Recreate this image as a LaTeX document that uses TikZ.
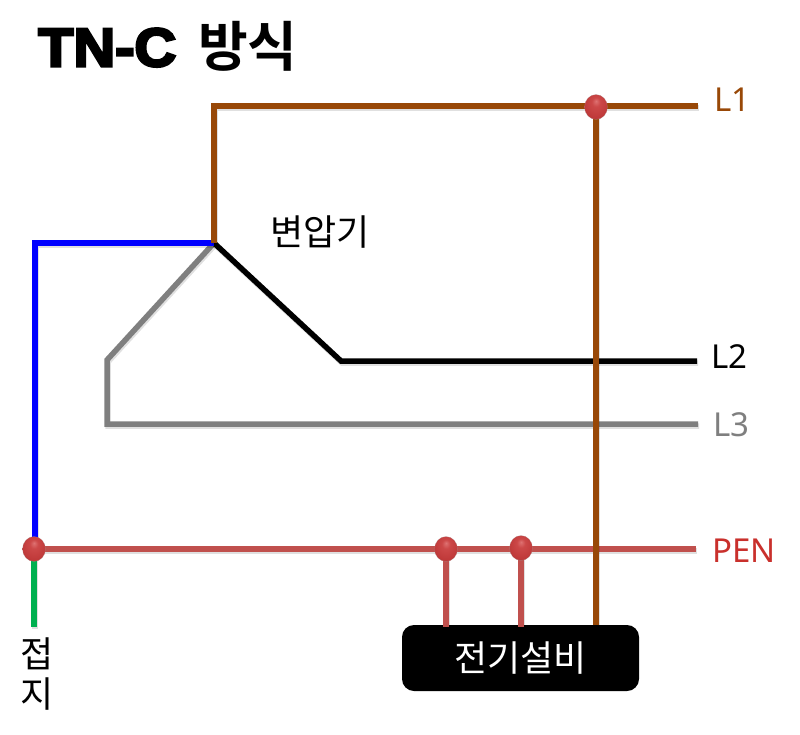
\documentclass[tikz,border=0pt]{standalone}
\usepackage{fontspec}
\usetikzlibrary{shapes.geometric}
\setmainfont{Noto Sans}
\newfontfamily\krfont{Noto Sans CJK KR}
\newfontfamily\krbold{Noto Sans CJK KR Bold}
\newfontfamily\heavyfont[FakeBold=5,FakeStretch=1.07]{Liberation Sans Bold}
\definecolor{brownline}{HTML}{984807}
\definecolor{penline}{HTML}{C0504D}
\definecolor{grayline}{HTML}{7F7F7F}
\definecolor{groundline}{HTML}{00B050}
\definecolor{penlabel}{HTML}{C9302C}
\definecolor{ballA}{HTML}{DE7272}
\definecolor{ballB}{HTML}{CC4848}
\definecolor{ballC}{HTML}{C03A3A}
\definecolor{ballD}{HTML}{9C2E2E}
\definecolor{ballE}{HTML}{7A2626}
\pgfdeclareradialshading{redball}{\pgfpoint{0bp}{12bp}}{%
  color(0bp)=(ballA);
  color(9bp)=(ballB);
  color(26bp)=(ballC);
  color(40bp)=(ballD);
  color(50bp)=(ballE)}
\tikzset{
  x=1pt,y=-1pt,
  wire/.style={line width=5.5pt,line join=miter,
    preaction={draw=black,opacity=.12,line width=5.5pt,transform canvas={yshift=-2pt,xshift=1pt}}},
  joint/.style={ellipse,minimum width=23pt,minimum height=25pt,inner sep=0pt,
    shading=redball,draw=black!35,draw opacity=.4,line width=.4pt},
  lab/.style={font=\fontsize{33pt}{33pt}\selectfont,inner sep=0pt,anchor=west},
  kor/.style={font=\krfont\fontsize{36pt}{42pt}\selectfont,inner sep=0pt,align=center},
  devicebox/.style={fill=black,rounded corners=12pt,inner sep=0pt,minimum width=237pt,minimum height=66pt},
}
\begin{document}
\begin{tikzpicture}
\useasboundingbox (0,0) rectangle (800,735);
% named points
\coordinate (star) at (214,243);
\coordinate (tl1) at (214,106);
\coordinate (endL1) at (698,106);
\coordinate (tp) at (35,243);
\coordinate (j0) at (34,549);
\coordinate (j1) at (446,549);
\coordinate (j2) at (521,548);
\coordinate (j3) at (596,107);
\coordinate (g1) at (107,360);
\coordinate (g2) at (107,424);
\coordinate (endL3) at (698,424);
\coordinate (k1) at (341,361);
\coordinate (endL2) at (697,361);
\coordinate (endPEN) at (696,549);
\coordinate (gnd) at (34,627);
\node[devicebox] (dev) at (520.5,658) {};
\node[kor,text=white] at (dev.center) {전기설비};
% wires
\draw[wire,grayline] (star) -- (g1) -- (g2) -- (endL3);
\draw[wire,black] (star) -- (k1) -- (endL2);
\draw[wire,penline] (j0) -- (endPEN);
\draw[wire,groundline] (j0) -- (gnd);
\draw[wire,blue] (star) -- (tp) -- (tp |- j0);
\draw[wire,brownline] (star) -- (tl1) -- (endL1);
\draw[wire,brownline] (j3) -- (j3 |- dev.north);
\draw[wire,penline] (j1) -- ([yshift=-2pt]j1 |- dev.north);
\draw[wire,penline] (j2) -- ([yshift=-2pt]j2 |- dev.north);
% joints
\node[joint] (n0) at (j0) {};
\node[joint] (n1) at (j1) {};
\node[joint] (n2) at (j2) {};
\node[joint] (n3) at (j3) {};
% labels
\node[lab,text=brownline] (lL1) at (714,100) {L1};
\node[lab,text=black] (lL2) at (711,357) {L2};
\node[lab,text=grayline] (lL3) at (713,425) {L3};
\node[lab,text=penlabel] (lPEN) at (712,551) {PEN};
\node[kor] (trafo) at (320,232) {변압기};
\node[kor] (ground1) at (37,654) {접};
\node[kor] (ground2) at (37,694) {지};
\node[inner sep=0pt,anchor=west] (title) at (38,46)
  {{\heavyfont\fontsize{54pt}{54pt}\selectfont TN-C}\hspace{22pt}{\krbold\fontsize{54pt}{56pt}\selectfont 방식}};
\end{tikzpicture}
\end{document}
